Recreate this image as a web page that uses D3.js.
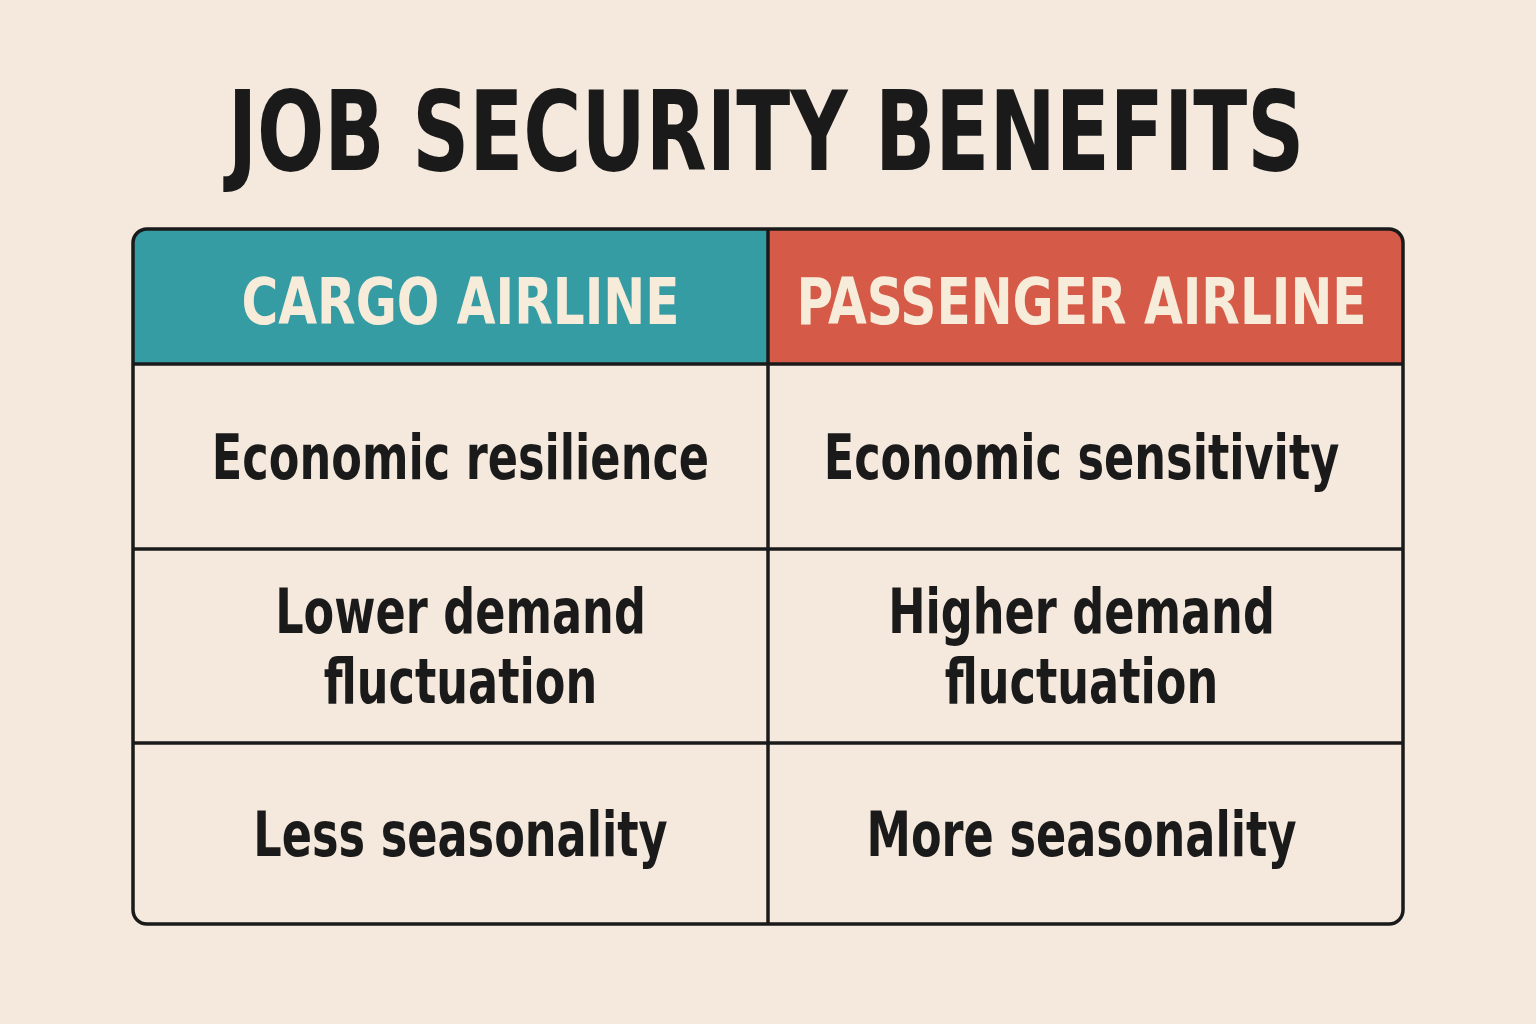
<!DOCTYPE html>
<html><head><meta charset="utf-8">
<script src="https://cdn.jsdelivr.net/npm/d3@7"></script>
<style>body{margin:0;background:#f5e9dd}</style>
</head><body>
<script>
const title = "JOB SECURITY BENEFITS";
const columns = ["CARGO AIRLINE", "PASSENGER AIRLINE"];
const cargoRows = [["Economic resilience"], ["Lower demand", "fluctuation"], ["Less seasonality"]];
const passengerRows = [["Economic sensitivity"], ["Higher demand", "fluctuation"], ["More seasonality"]];
const headerColors = ["#369ca4", "#d65a48"];

const W = 1536, H = 1024;
const font = "'DejaVu Sans Condensed','Liberation Sans Narrow','DejaVu Sans',sans-serif";
const svg = d3.select("body").append("svg").attr("width", W).attr("height", H);
svg.append("rect").attr("width", W).attr("height", H).attr("fill", "#f5e9dd");

function squeeze(sel, f) {
  sel.each(function () {
    const w = this.getComputedTextLength();
    d3.select(this).attr("textLength", w * f).attr("lengthAdjust", "spacingAndGlyphs");
  });
}

svg.append("text").attr("x", 766).attr("y", 170).attr("text-anchor", "middle")
  .attr("font-family", font).attr("font-weight", "bold").attr("font-size", 110)
  .attr("fill", "#1a1a1a").text(title).call(squeeze, 0.8);

const L = 133, R = 1403, T = 229, B = 924;
const x = d3.scaleBand().domain(d3.range(columns.length)).range([L, R]);
const rowEdges = [T, 364, 549, 743, B];
const cx = i => x(i) + x.bandwidth() / 2 + (i === 0 ? 10 : -4);

const clip = svg.append("clipPath").attr("id", "c");
clip.append("rect").attr("x", L).attr("y", T).attr("width", R - L).attr("height", B - T).attr("rx", 14);
const g = svg.append("g").attr("clip-path", "url(#c)");
g.selectAll("rect.h").data(columns).join("rect")
  .attr("x", (d, i) => x(i)).attr("y", T).attr("width", x.bandwidth()).attr("height", rowEdges[1] - T)
  .attr("fill", (d, i) => headerColors[i]);

svg.selectAll("text.h").data(columns).join("text")
  .attr("x", (d, i) => cx(i)).attr("y", 324).attr("text-anchor", "middle")
  .attr("font-family", font).attr("font-weight", "bold").attr("font-size", 64)
  .attr("fill", "#f7ecd9").text(d => d).call(squeeze, 0.87);

const cols = [cargoRows, passengerRows];
cols.forEach((rows, ci) => {
  rows.forEach((lines, ri) => {
    const cy = (rowEdges[ri + 1] + rowEdges[ri + 2]) / 2;
    const lh = 70;
    lines.forEach((ln, li) => {
      svg.append("text").attr("x", cx(ci))
        .attr("y", cy + (li - (lines.length - 1) / 2) * lh + 22)
        .attr("text-anchor", "middle").attr("font-family", font).attr("font-weight", "bold")
        .attr("font-size", 62).attr("fill", "#1a1a1a").text(ln).call(squeeze, 0.8);
    });
  });
});

const stroke = "#1a1a1a";
rowEdges.slice(1, -1).forEach(y => svg.append("line").attr("x1", L).attr("x2", R).attr("y1", y).attr("y2", y)
  .attr("stroke", stroke).attr("stroke-width", 3.5));
svg.append("line").attr("x1", x(1)).attr("x2", x(1)).attr("y1", T).attr("y2", B).attr("stroke", stroke).attr("stroke-width", 3.5);
svg.append("rect").attr("x", L).attr("y", T).attr("width", R - L).attr("height", B - T).attr("rx", 14)
  .attr("fill", "none").attr("stroke", stroke).attr("stroke-width", 3.5);
</script>
</body></html>
